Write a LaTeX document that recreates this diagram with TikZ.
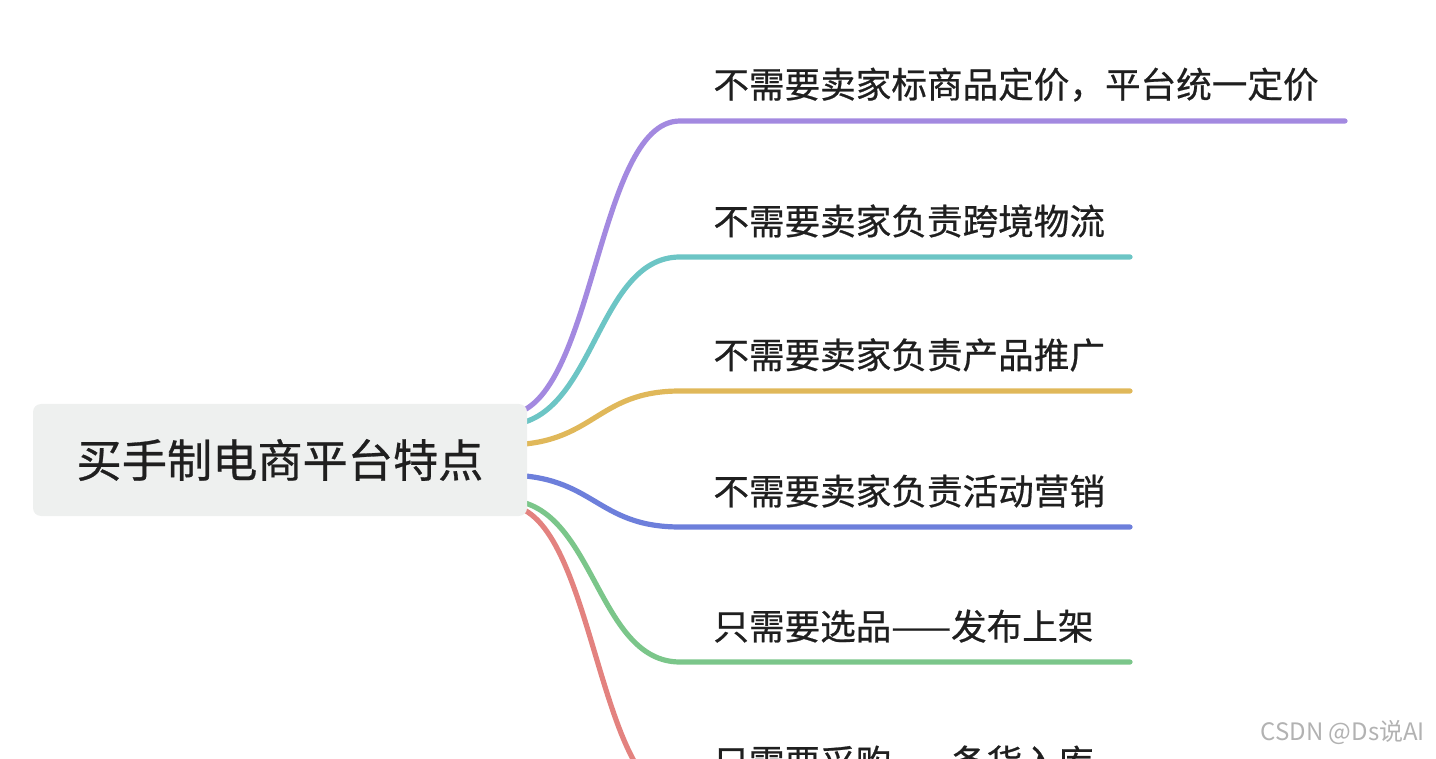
\documentclass[tikz,border=0pt]{standalone}
\usepackage{fontspec}
\setmainfont{Noto Sans CJK SC}
\newfontfamily\medfont[FakeBold=0.6]{Noto Sans CJK SC}
\begin{document}
\begin{tikzpicture}[x=0.5pt,y=-0.5pt,
  br/.style={line width=2.6pt,line cap=round},
  lab/.style={anchor=south west,font=\medfont\fontsize{17.8}{20}\selectfont,text=black!88,inner sep=0pt}]
\useasboundingbox (0,0) rectangle (1436,759);
\clip (0,0) rectangle (1436,759);
\definecolor{cp}{HTML}{A389E0}\definecolor{ct}{HTML}{6CC5C5}
\definecolor{cy}{HTML}{E0B85A}\definecolor{cb}{HTML}{6D7FDB}
\definecolor{cg}{HTML}{7BC68A}\definecolor{cr}{HTML}{E3827F}
\definecolor{rootbg}{HTML}{EEF0EF}
\foreach \c/\ya/\yb/\xe/\nm in {cp/415/121/1345/a,ct/425/257/1130/b,cy/445/391/1130/c,cb/475/527/1130/d,cg/500/662/1130/e,cr/505/798/1130/f}{
  \coordinate (s\nm) at (505,\ya);
  \coordinate (m\nm) at (680,\yb);
  \coordinate (e\nm) at (\xe,\yb);
  \draw[br,\c] (s\nm) .. controls (595,\ya) and (595,\yb) .. (m\nm) -- (e\nm);
}
\node[draw=none,fill=rootbg,rounded corners=4pt,minimum width=247pt,minimum height=56pt,font=\medfont\fontsize{22.6}{26}\selectfont,text=black!88] (root) at (280,460) {买手制电商平台特点};
\node[lab] (t1) at (713,102) {不需要卖家标商品定价，平台统一定价};
\node[lab] (t2) at (713,238) {不需要卖家负责跨境物流};
\node[lab] (t3) at (713,372) {不需要卖家负责产品推广};
\node[lab] (t4) at (713,508) {不需要卖家负责活动营销};
\node[lab] (t5) at (713,643) {只需要选品——发布上架};
\node[lab] (t6) at (713,779) {只需要采购——备货入库};
\node[font=\fontsize{12}{14}\selectfont,text=black!30,anchor=east] (wm) at (1432,733) {CSDN @Ds说AI};
\end{tikzpicture}
\end{document}
